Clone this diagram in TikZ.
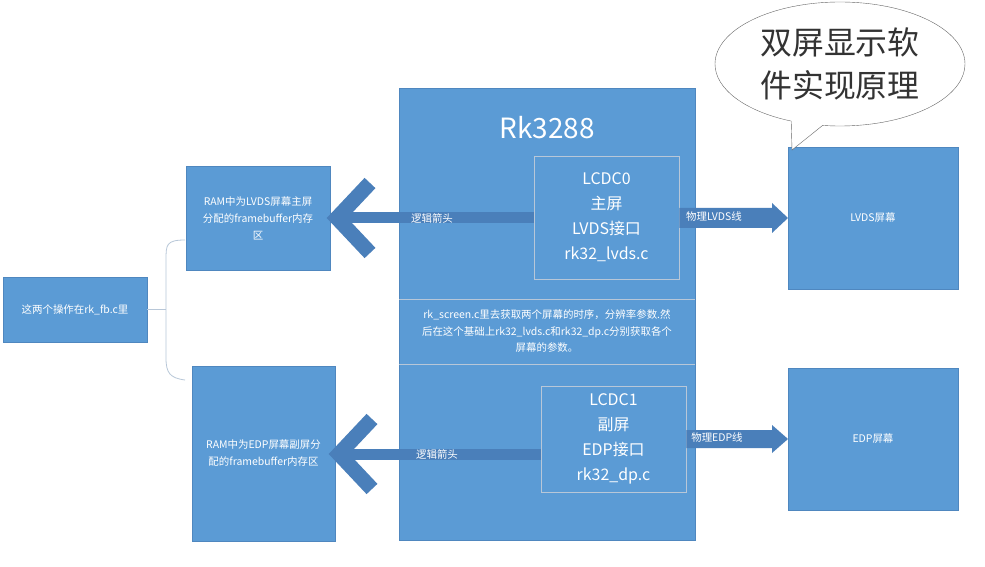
\documentclass[tikz,border=0pt]{standalone}
\usepackage{fontspec}
\setmainfont{Noto Sans CJK SC}
\usetikzlibrary{shapes.callouts}
\definecolor{bx}{HTML}{5B9BD5}
\definecolor{bd}{HTML}{4F87BF}
\definecolor{ar}{HTML}{4A7FBA}
\definecolor{ln}{HTML}{B8C7D8}
\begin{document}
\begin{tikzpicture}[x=1bp,y=-1bp,
  box/.style={draw=bd,fill=bx,text=white,align=center,inner sep=2pt},
  inner/.style={draw=ln,fill=bx,text=white,align=center,line width=0.8pt},
  sep/.style={draw=ln,line width=0.8pt},
  small/.style={font=\fontsize{10.5}{17}\selectfont},
  chev/.style={draw=ar,line width=15pt,line cap=butt,line join=miter}]
\useasboundingbox (0,0) rectangle (985,567);
\fill[white] (0,0) rectangle (985,567);
% main chip
\node[box,minimum width=296bp,minimum height=452bp,anchor=north west] (chip) at (399,88) {};
\node[text=white,font=\fontsize{28}{30}\selectfont] (title) at (547,128) {Rk3288};
\draw[sep] (399,299) -- (695,299);
\draw[sep] (399,364) -- (695,364);
\node[text=white,align=center,small] (mid) at (547,331) {rk\_screen.c里去获取两个屏幕的时序，分辨率参数.然\\后在这个基础上rk32\_lvds.c和rk32\_dp.c分别获取各个\\屏幕的参数。};
\node[inner,minimum width=145bp,minimum height=123bp,font=\fontsize{16}{25}\selectfont] (l0) at (606.5,217.5) {LCDC0\\主屏\\LVDS接口\\rk32\_lvds.c};
\node[inner,minimum width=145bp,minimum height=106bp,font=\fontsize{16}{25}\selectfont] (l1) at (613.5,439) {LCDC1\\副屏\\EDP接口\\rk32\_dp.c};
% left boxes
\node[box,minimum width=144bp,minimum height=104bp,small] (ram0) at (258,218) {RAM中为LVDS屏幕主屏\\分配的framebuffer内存\\区};
\node[box,minimum width=143bp,minimum height=175bp,small] (ram1) at (263.5,453.5) {RAM中为EDP屏幕副屏分\\配的framebuffer内存区};
\node[box,minimum width=144bp,minimum height=65bp,small] (fb) at (75,309.5) {这两个操作在rk\_fb.c里};
% right boxes
\node[box,minimum width=170bp,minimum height=142bp,small] (lvds) at (873,218) {LVDS屏幕};
\node[box,minimum width=170bp,minimum height=142bp,small] (edp) at (873,439) {EDP屏幕};
% brace
\draw[ln,line width=0.8pt] (185,240) .. controls (166,240) and (166,245) .. (166,260) -- (166,358) .. controls (166,373) and (170,378) .. (185,380);
\draw[ln,line width=0.8pt] (fb.east) -- (166,309.5);
% logic arrows
\fill[ar] (l0.west|-0,212.5) rectangle (345,223.5);
\draw[chev] (370,183) -- (337,218) -- (370,253);
\node[text=white,small] (t0) at (432,218) {逻辑箭头};
\fill[ar] (l1.west|-0,448.5) rectangle (347,459.5);
\draw[chev] (372,419) -- (339,454) -- (372,489);
\node[text=white,small] (t1) at (437,454) {逻辑箭头};
% physical arrows
\fill[ar] (l0.east|-0,208) -- (772,208) -- (772,203) -- (788,218) -- (772,233) -- (772,228) -- (l0.east|-0,228) -- cycle;
\node[text=white,small] (p0) at (714,217) {物理LVDS线};
\fill[ar] (l1.east|-0,430) -- (772,430) -- (772,425) -- (788,439) -- (772,453) -- (772,448) -- (l1.east|-0,448) -- cycle;
\node[text=white,small] (p1) at (717,438) {物理EDP线};
% callout
\node[ellipse callout,draw=black!60,fill=white,minimum width=250bp,minimum height=124bp,callout absolute pointer={(792,150)},align=center,text=black!80,font=\fontsize{32}{43}\selectfont] (call) at (840,64) {双屏显示软\\件实现原理};
\end{tikzpicture}
\end{document}
